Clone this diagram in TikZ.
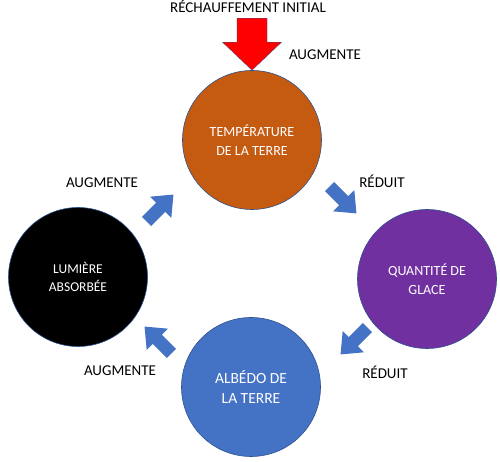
\documentclass[tikz,border=0pt]{standalone}
\usepackage{fontspec}
\setmainfont{Carlito}
\usetikzlibrary{positioning}
\definecolor{orangeCircle}{RGB}{197,90,17}
\definecolor{purpleCircle}{RGB}{112,48,160}
\definecolor{blueCircle}{RGB}{68,114,196}
\definecolor{edgeBlue}{RGB}{47,82,143}
\definecolor{arrowBlue}{RGB}{68,114,196}

\begin{document}
\begin{tikzpicture}[
    x=1pt, y=1pt,
    state/.style={circle, draw=edgeBlue, line width=0.6pt, minimum size=139pt, inner sep=0pt, align=center, text=white, font=\fontsize{14}{19}\selectfont},
    lbl/.style={font=\fontsize{15}{18}\selectfont, inner sep=0pt},
    blkarrow/.pic={
        \fill[arrowBlue] (-19,-6.5) -- (1,-6.5) -- (1,-15) -- (19,0) -- (1,15) -- (1,6.5) -- (-19,6.5) -- cycle;
    }
]
\useasboundingbox (0,0) rectangle (500,462);

% circles of the loop
\node[state, fill=orangeCircle] (temp) at (252,322) {TEMPÉRATURE\\DE LA TERRE};
\node[state, fill=purpleCircle] (glace) at (427,183) {QUANTITÉ DE\\GLACE};
\node[state, fill=blueCircle, font=\fontsize{15.5}{20}\selectfont] (albedo) at (251,75) {ALBÉDO DE\\LA TERRE};
\node[state, fill=black, font=\fontsize{13.5}{18}\selectfont] (lumiere) at (78,185) {LUMIÈRE\\ABSORBÉE};

% initial warming arrow
\coordinate (tip) at (temp.north);
\coordinate (tail) at ([yshift=52pt]tip);
\fill[red, draw=edgeBlue, line width=0.3pt] (tip) -- ++(29.5,28) -- ++(-14.5,0) -- ++(0,24) -- ++(-30,0) -- ++(0,-24) -- ++(-14.5,0) -- cycle;
\node[lbl, above=5pt of tail, xshift=-4pt] (init) {RÉCHAUFFEMENT INITIAL};

% block arrows between circles
\pic[rotate=45] (a1) at (160,254) {blkarrow};
\pic[rotate=-45] (a2) at (343,262) {blkarrow};
\pic[rotate=-135] (a3) at (354,121) {blkarrow};
\pic[rotate=135] (a4) at (158,122) {blkarrow};

% labels
\node[lbl] (l0) at (325,407) {AUGMENTE};
\node[lbl] (l1) at (382,281) {RÉDUIT};
\node[lbl] (l2) at (385,90) {RÉDUIT};
\node[lbl] (l3) at (120,91) {AUGMENTE};
\node[lbl] (l4) at (102,279) {AUGMENTE};
\end{tikzpicture}
\end{document}
